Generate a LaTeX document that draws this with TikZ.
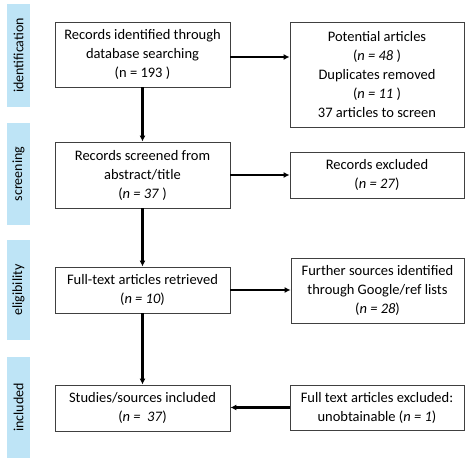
\documentclass[tikz,border=0pt]{standalone}
\usepackage{fontspec}
\setmainfont{Carlito}
\usetikzlibrary{arrows.meta}

\definecolor{stagefill}{RGB}{190,228,246}

\tikzset{
  box/.style={draw=black!75, line width=0.8pt, align=center, inner sep=2pt,
    font=\fontsize{14.5}{19}\selectfont},
  stage/.style={fill=stagefill, minimum width=23pt, rotate=90,
    font=\fontsize{14}{16}\selectfont},
  arrow/.style={line width=2.3pt, -{Latex[length=6pt,width=6pt]}}
}

\begin{document}
\begin{tikzpicture}[x=1pt, y=-1pt]

    \useasboundingbox (0,0) rectangle (474,465);

    % stage labels
    \node[stage, minimum width=103pt, minimum height=23pt] (sid) at (18.5,55.5) {identification};
    \node[stage, minimum width=102pt, minimum height=23pt] (sscr) at (18.5,174) {screening};
    \node[stage, minimum width=100pt, minimum height=23pt] (selig) at (18.5,290) {eligibility};
    \node[stage, minimum width=101pt, minimum height=23pt] (sinc) at (18.5,407.5) {included};

    % left column
    \node[box, minimum width=175pt, minimum height=65pt] (ident) at (142.5,54.5)
        {Records identified through\\database searching\\(n = 193 )};
    \node[box, minimum width=175pt, minimum height=66pt] (screen) at (142.5,175)
        {Records screened from\\abstract/title\\(\textit{n = 37} )};
    \node[box, minimum width=175pt, minimum height=46pt] (full) at (142.5,290)
        {Full-text articles retrieved\\(\textit{n = 10})};
    \node[box, minimum width=175pt, minimum height=46pt] (incl) at (142.5,408)
        {Studies/sources included\\(\textit{n =\ \ 37})};

    % right column
    \node[box, minimum width=174pt, minimum height=105pt] (pot) at (377,74.5)
        {Potential articles\\(\textit{n = 48} )\\Duplicates removed\\(\textit{n = 11} )\\37 articles to screen};
    \node[box, minimum width=174pt, minimum height=46pt] (excl) at (377,175)
        {Records excluded\\(\textit{n = 27})};
    \node[box, minimum width=173pt, minimum height=65pt] (further) at (377.5,290.5)
        {Further sources identified\\through Google/ref lists\\(\textit{n = 28})};
    \node[box, minimum width=174pt, minimum height=45pt] (unobt) at (377,407.5)
        {Full text articles excluded:\\unobtainable (\textit{n = 1})};

    % connectors
    \draw[arrow] (ident.south) -- (screen.north);
    \draw[arrow] (screen.south) -- (full.north);
    \draw[arrow] (full.south) -- (incl.north);

    \draw[arrow] ([yshift=-2.5pt]ident.east) -- ([yshift=-2.5pt]ident.east -| pot.west);
    \draw[arrow] (screen.east) -- (excl.west);
    \draw[arrow] (full.east) -- (full.east -| further.west);
    \draw[arrow] (unobt.west) -- (unobt.west -| incl.east);

\end{tikzpicture}
\end{document}
